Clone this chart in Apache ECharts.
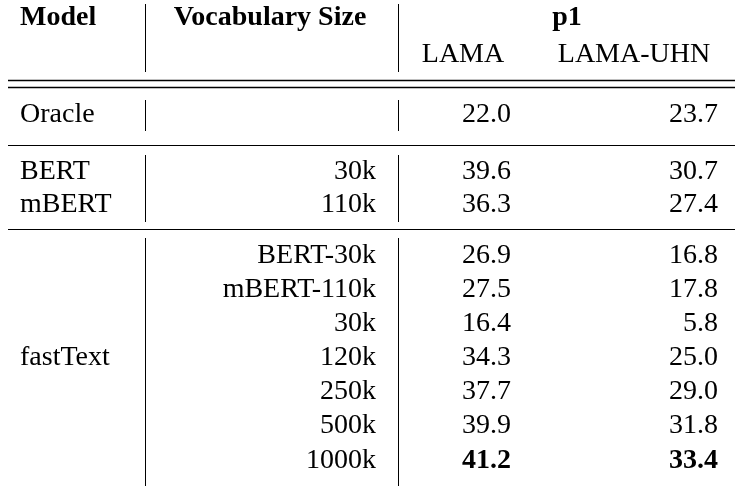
<!DOCTYPE html>
<html><head><meta charset="utf-8">
<script src="https://cdn.jsdelivr.net/npm/echarts@6/dist/echarts.min.js"></script>
<style>html,body{margin:0;padding:0;background:#fff}#c{width:742px;height:488px}</style>
</head><body><div id="c"></div>
<script>
const models = ["Oracle","BERT","mBERT","","","","fastText","","",""];
const vocab = ["","30k","110k","BERT-30k","mBERT-110k","30k","120k","250k","500k","1000k"];
const lama = ["22.0","39.6","36.3","26.9","27.5","16.4","34.3","37.7","39.9","41.2"];
const lamaUhn = ["23.7","30.7","27.4","16.8","17.8","5.8","25.0","29.0","31.8","33.4"];
const boldRows = [9];
const rowY = [115,172,205,256,290,324,358,392,426,461];

const F = '"Liberation Serif","Times New Roman",serif';
const g = [];
function txt(x,y,s,align,bold){g.push({type:'text',x:x,y:y,style:{text:s,x:0,y:0,font:(bold?'bold ':'')+'28px '+F,fill:'#000',textAlign:align,textVerticalAlign:'middle'}});}
function line(x1,y1,x2,y2,w){g.push({type:'line',shape:{x1,y1,x2,y2},style:{stroke:'#000',lineWidth:w||1}});}

txt(20,18,'Model','left',true);
txt(270,18,'Vocabulary Size','center',true);
txt(567,18,'p1','center',true);
txt(463,55,'LAMA','center');
txt(634,55,'LAMA-UHN','center');
line(8,80.5,735,80.5,1.5); line(8,87.5,735,87.5,1.5);
line(8,145.5,735,145.5,1.2); line(8,229.5,735,229.5,1.2);
[[4,72],[100,131],[155,222],[238,486]].forEach(r=>{line(145.5,r[0],145.5,r[1]);line(398.5,r[0],398.5,r[1]);});

rowY.forEach((y,i)=>{
  const b = boldRows.includes(i);
  if(models[i]) txt(20,y,models[i],'left');
  if(vocab[i]) txt(376,y,vocab[i],'right');
  txt(511,y,lama[i],'right',b);
  txt(718,y,lamaUhn[i],'right',b);
});

const chart = echarts.init(document.getElementById('c'));
chart.setOption({animation:false,graphic:g});
</script></body></html>
